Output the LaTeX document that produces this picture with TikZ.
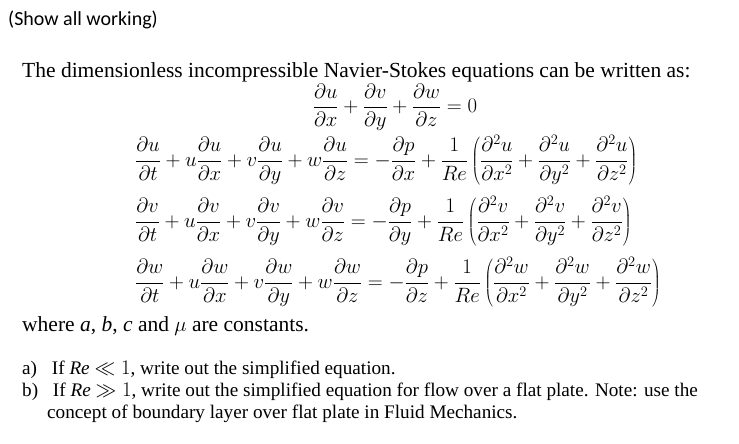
\documentclass[tikz,border=0pt]{standalone}
\usepackage{fontspec}
\setmainfont{Liberation Serif}
\newfontfamily\calib{Carlito}
\newcommand{\pd}[2]{\frac{\partial #1}{\partial #2}}
\newcommand{\pdd}[2]{\frac{\partial^2 #1}{\partial #2^2}}
\newcommand{\nseq}[2]{$\displaystyle \pd{#1}{t}+u\pd{#1}{x}+v\pd{#1}{y}+w\pd{#1}{z}=-\pd{p}{#2}+\frac{1}{Re}\left(\pdd{#1}{x}+\pdd{#1}{y}+\pdd{#1}{z}\right)$}
\begin{document}
\begin{tikzpicture}[x=1pt,y=-1pt,
  txt/.style={anchor=west,inner sep=0pt,font=\fontsize{21.5}{24}\selectfont},
  qst/.style={anchor=west,inner sep=0pt,font=\fontsize{19.2}{22}\selectfont},
  eq/.style={anchor=west,inner sep=0pt,font=\fontsize{21.2}{24}\selectfont}]
\useasboundingbox[fill=white] (0,0) rectangle (739,444);
\node[anchor=west,inner sep=0pt,font=\calib\fontsize{20}{22}\selectfont] (sh) at (8,20) {(Show all working)};
\node[txt] (intro) at (22,72) {The dimensionless incompressible Navier-Stokes equations can be written as:};
\node[eq,anchor=center] (cont) at (395,107) {$\displaystyle \pd{u}{x}+\pd{v}{y}+\pd{w}{z}=0$};
\node[eq] (e1) at (135,160) {\nseq{u}{x}};
\node[eq] (e2) at (135,221) {\nseq{v}{y}};
\node[eq] (e3) at (135,282) {\nseq{w}{z}};
\node[txt] (wh) at (22,326) {where \textit{a}, \textit{b}, \textit{c} and $\mu$ are constants.};
\node[qst] (qa) at (22,370) {a)\hspace{10pt} If \textit{Re} $\ll 1$, write out the simplified equation.};
\node[qst] (qb) at (22,392) {b)\hspace{10pt} If \textit{Re} $\gg 1$, write out the simplified equation for flow over a flat plate. Note: use the};
\node[qst] (qc) at (47,414) {concept of boundary layer over flat plate in Fluid Mechanics.};
\end{tikzpicture}
\end{document}
